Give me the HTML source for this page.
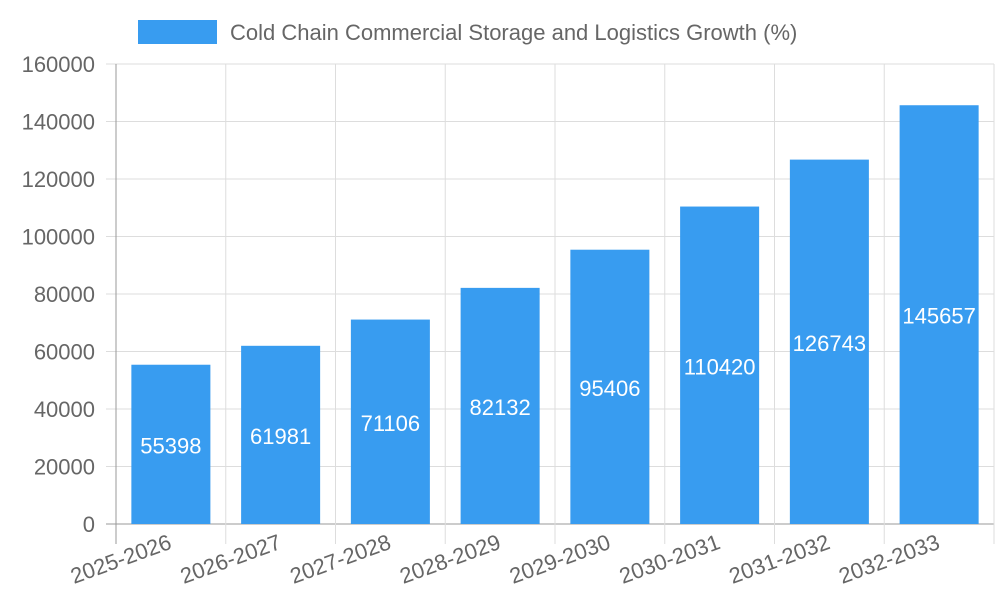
<!DOCTYPE html>
<html><head><meta charset="utf-8"><style>
body{margin:0;background:#fff;}
svg{display:block;font-family:"Liberation Sans",sans-serif;}
</style></head><body>
<svg id="chart" width="1000" height="600" viewBox="0 0 1000 600">
<g>
<rect x="138" y="20" width="79" height="24" fill="#389cf0"/>
<text x="230" y="40" font-size="22" fill="#666">Cold Chain Commercial Storage and Logistics Growth (%)</text>
</g>
<g id="grid"></g>
<g id="bars"></g>
<g id="axes"></g>
</svg>
<script>
const categories=["2025-2026","2026-2027","2027-2028","2028-2029","2029-2030","2030-2031","2031-2032","2032-2033"];
const values=[55398,61981,71106,82132,95406,110420,126743,145657];
const yTicks=[0,20000,40000,60000,80000,100000,120000,140000,160000];
const NS="http://www.w3.org/2000/svg";
const L=116,R=994,T=64,B=524,YMAX=160000;
const bw=(R-L)/categories.length;
const y=v=>B-(v/YMAX)*(B-T);
const x=i=>L+i*bw;
function mk(tag,attrs,parent,text){const e=document.createElementNS(NS,tag);for(const k in attrs)e.setAttribute(k,attrs[k]);if(text!=null)e.textContent=text;parent.appendChild(e);return e;}
const grid=document.getElementById('grid'),bars=document.getElementById('bars'),axes=document.getElementById('axes');
yTicks.forEach(t=>{
  const g=mk('line',{x1:L-10,x2:R,y1:y(t),y2:y(t),stroke:t===0?'#999':'#ddd','stroke-width':1},grid);
  
  
  const lb=mk('text',{x:95,y:y(t)+8,'text-anchor':'end','font-size':22,fill:'#666'},axes,String(t));
  
  
});
for(let i=0;i<=categories.length;i++){
  const g=mk('line',{x1:x(i),x2:x(i),y1:T,y2:B+20,stroke:i===0?'#999':'#ddd','stroke-width':1},grid);
  
  
}
categories.forEach((c,i)=>{
  const cx=x(i)+bw/2,w=bw*0.72;
  const r=mk('rect',{x:cx-w/2,y:y(values[i]),width:w,height:B-y(values[i]),fill:'#389cf0'},bars);
  
  
  const v=mk('text',{x:cx,y:(y(values[i])+B)/2+9,'text-anchor':'middle','font-size':22,fill:'#fff'},bars,String(values[i]));
  
  
  const tx=cx+2,ty=548;
  const lb=mk('text',{x:tx,y:ty,'text-anchor':'end','font-size':22,fill:'#666',transform:`rotate(-20 ${tx} ${ty})`},axes,c);
  
  
});
</script>
</body></html>
